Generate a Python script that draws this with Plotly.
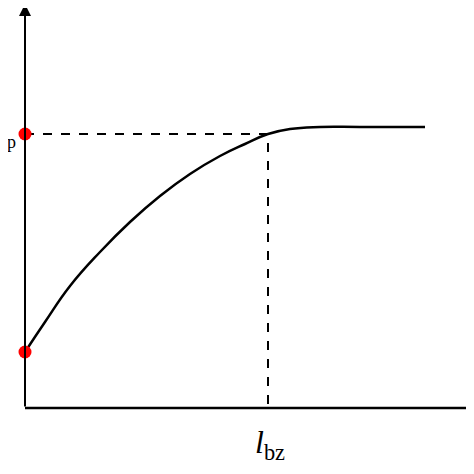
import plotly.graph_objects as go

# curve (x, height above bottom of window)
curve_x = [25, 45, 70, 100, 130, 160, 190, 220, 245, 268, 290, 320, 360, 425]
curve_y = [122, 152, 188, 222, 252, 278, 300, 318, 330, 340, 345, 347, 347, 347]
p_level = 340
start_level = 122
l_bz = 268
axis_x = 25
axis_y = 66

# page body has an 8px margin: shift data so marks land where the picture has them
dx, dy = -8, 8
sx = [v + dx for v in curve_x]
sy = [v + dy for v in curve_y]

fig = go.Figure()
fig.add_trace(go.Scatter(x=sx, y=sy, mode='lines', line=dict(color='black', width=2.5, shape='spline', smoothing=1.3)))
# dashed guides
fig.add_trace(go.Scatter(x=[axis_x + dx, l_bz + dx, l_bz + dx], y=[p_level + dy, p_level + dy, axis_y + dy],
                         mode='lines', line=dict(color='black', width=2, dash='dash')))
fig.add_trace(go.Scatter(x=[axis_x + dx, axis_x + dx], y=[start_level + dy, p_level + dy], mode='markers',
                         marker=dict(color='red', size=13)))

# axes
fig.add_shape(type='line', x0=axis_x + dx, y0=axis_y + dy, x1=474, y1=axis_y + dy, line=dict(color='black', width=2.5))
fig.add_annotation(x=axis_x + dx, y=470 + dy, ax=axis_x + dx, ay=axis_y + dy, xref='x', yref='y', axref='x', ayref='y',
                   showarrow=True, arrowhead=2, arrowsize=1.2, arrowwidth=2, arrowcolor='black', text='')
fig.add_annotation(x=270 + dx, y=30 + dy, text='<i>l</i><sub>bz</sub>', showarrow=False,
                   font=dict(family='Liberation Serif', size=32, color='black'))
fig.add_annotation(x=3, y=332 + dy, text='p', showarrow=False,
                   font=dict(family='Liberation Serif', size=18, color='black'))

fig.update_xaxes(range=[0, 474], visible=False)
fig.update_yaxes(range=[0, 474], visible=False)
fig.update_layout(width=474, height=474, margin=dict(l=0, r=0, t=0, b=0), showlegend=False,
                  plot_bgcolor='white', paper_bgcolor='white')
fig.write_html("out.html")
